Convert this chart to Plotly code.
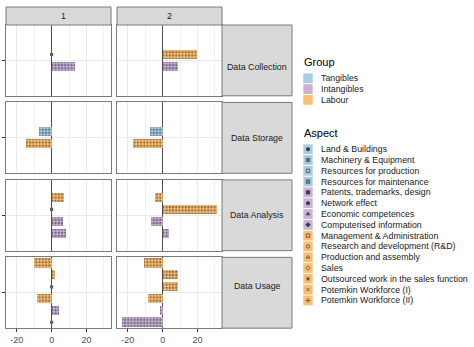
import plotly.graph_objects as go

W, H = 474, 347

# ---- data -------------------------------------------------------------
stages = ["Data Collection", "Data Storage", "Data Analysis", "Data Usage"]
columns = ["1", "2"]

# group of each dodged bar slot, listed top to bottom
slots_collection = ["Labour", "Intangibles"]
slots_storage = ["Tangibles", "Labour"]
slots_analysis = ["Labour", "Labour", "Intangibles", "Intangibles"]
slots_usage = ["Labour", "Labour", "Labour", "Labour", "Intangibles", "Intangibles"]

# values for facet column "1"
col1_collection = [0, 13.5]
col1_storage = [-7, -14.5]
col1_analysis = [7, 0, 6.5, 8.5]
col1_usage = [-10, 2, 0, -8.5, 4.5, 0]

# values for facet column "2"
col2_collection = [19.5, 9]
col2_storage = [-7, -17]
col2_analysis = [-4.5, 31.4, -6.5, 3.8]
col2_usage = [-10.7, 9, 9, -8.6, -1.5, -23.5]

groups = ["Tangibles", "Intangibles", "Labour"]
group_colors = ["#A6CEE3", "#CAB2D6", "#FDBF6F"]

aspects = [
    "Land & Buildings", "Machinery & Equipment", "Resources for production",
    "Resources for maintenance", "Patents, trademarks, design", "Network effect",
    "Economic competences", "Computerised information",
    "Management & Administration", "Research and development (R&D)",
    "Production and assembly", "Sales", "Outsourced work in the sales function",
    "Potemkin Workforce (I)", "Potemkin Workforce (II)",
]
aspect_groups = ["Tangibles"] * 4 + ["Intangibles"] * 4 + ["Labour"] * 7
aspect_symbols = [
    "circle", "square-cross-open", "square-open", "square-x-open",
    "square", "circle", "triangle-up", "diamond",
    "square-open", "circle-open", "triangle-up-open", "diamond-open",
    "asterisk-open", "x-thin-open", "cross-thin-open",
]

x_ticks = [-20, 0, 20]
x_minor = [-10, 10, 30]
x_range = [-26.25, 34.15]

stage_slots = [slots_collection, slots_storage, slots_analysis, slots_usage]
stage_values = [
    [col1_collection, col2_collection],
    [col1_storage, col2_storage],
    [col1_analysis, col2_analysis],
    [col1_usage, col2_usage],
]

# ---- geometry (pixels) ------------------------------------------------
PANEL_X = [(6, 111), (117, 222)]
ROW_TOP, ROW_H, ROW_PITCH = 25.0, 70.8, 77.45
STRIP_TOP = (7, 25)
STRIP_RIGHT = (222, 292)
BORDER = "#7a7a7a"
GRID = "#EBEBEB"
FONT = "Liberation Sans, Arial, sans-serif"


def px(x):
    return x / W


def py(y):
    return 1 - y / H


color_of = dict(zip(groups, group_colors))

fig = go.Figure()
layout = dict(
    width=W, height=H, margin=dict(l=0, r=0, t=0, b=0),
    paper_bgcolor="white", plot_bgcolor="white",
    font=dict(family=FONT, size=9, color="#1a1a1a"),
    showlegend=False, barmode="overlay", bargap=0,
)
shapes, annotations = [], []

for r, stage in enumerate(stages):
    top = ROW_TOP + r * ROW_PITCH
    bottom = top + ROW_H
    slots = stage_slots[r]
    n = len(slots)
    ypos = [(n - 1) / 2 - k for k in range(n)]
    for c in range(2):
        idx = r * 2 + c + 1
        xa, ya = f"x{idx}", f"y{idx}"
        vals = stage_values[r][c]
        for g in groups:
            ys = [ypos[k] for k in range(n) if slots[k] == g and vals[k] != 0]
            xs = [vals[k] for k in range(n) if slots[k] == g and vals[k] != 0]
            if not xs:
                continue
            fig.add_trace(go.Bar(
                x=xs, y=ys, orientation="h", width=0.78, xaxis=xa, yaxis=ya,
                name=g, hoverinfo="x+name",
                marker=dict(
                    color=color_of[g], line=dict(width=0),
                    pattern=dict(shape=".", fillmode="overlay", fgcolor="#22222c",
                                 size=3.2, solidity=0.45),
                ),
            ))
        # zero-valued entries only show their pattern glyph at the origin
        zy = [ypos[k] for k in range(n) if vals[k] == 0]
        if zy:
            fig.add_trace(go.Scatter(
                x=[0] * len(zy), y=zy, mode="markers", xaxis=xa, yaxis=ya,
                marker=dict(symbol="square", size=3.2, color="#5a5f6e"),
                hoverinfo="skip",
            ))
        x0, x1 = PANEL_X[c]
        bottom_row = r == len(stages) - 1
        layout[f"xaxis{idx}"] = dict(
            domain=[px(x0), px(x1)], anchor=ya, range=x_range,
            tickvals=x_ticks, ticktext=[str(v) for v in x_ticks],
            showticklabels=bottom_row, ticks="outside" if bottom_row else "",
            ticklen=3, tickcolor="#333333", tickwidth=1,
            tickfont=dict(size=9, color="#4d4d4d", family=FONT),
            showgrid=True, gridcolor=GRID, gridwidth=1,
            minor=dict(tickvals=x_minor, showgrid=True, gridcolor="#F0F0F0",
                       gridwidth=0.7, ticks=""),
            zeroline=True, zerolinecolor="#4d4d4d", zerolinewidth=1,
            showline=True, mirror=True, linecolor=BORDER, linewidth=1,
            fixedrange=True,
        )
        layout[f"yaxis{idx}"] = dict(
            domain=[py(bottom), py(top)], anchor=xa, range=[-3, 3],
            tickvals=[0], ticktext=[""], ticks="outside" if c == 0 else "",
            ticklen=3, tickcolor="#333333", tickwidth=1,
            showgrid=True, gridcolor=GRID, gridwidth=1, zeroline=False,
            showline=True, mirror=True, linecolor=BORDER, linewidth=1,
            fixedrange=True,
        )
    # right-hand strip with the stage name
    shapes.append(dict(type="rect", xref="paper", yref="paper",
                       x0=px(STRIP_RIGHT[0]), x1=px(STRIP_RIGHT[1]),
                       y0=py(bottom), y1=py(top), fillcolor="#D9D9D9",
                       line=dict(color=BORDER, width=1)))
    annotations.append(dict(xref="paper", yref="paper",
                            x=px(sum(STRIP_RIGHT) / 2), y=py((top + bottom) / 2),
                            text=stage, showarrow=False,
                            font=dict(size=8.8, color="#1a1a1a", family=FONT)))

# top strips with the column labels
for c, lab in enumerate(columns):
    x0, x1 = PANEL_X[c]
    shapes.append(dict(type="rect", xref="paper", yref="paper",
                       x0=px(x0), x1=px(x1), y0=py(STRIP_TOP[1]), y1=py(STRIP_TOP[0]),
                       fillcolor="#D9D9D9", line=dict(color=BORDER, width=1)))
    annotations.append(dict(xref="paper", yref="paper", x=px((x0 + x1) / 2),
                            y=py(sum(STRIP_TOP) / 2), yanchor="middle",
                            text=lab, showarrow=False,
                            font=dict(size=8.8, color="#1a1a1a", family=FONT)))

# ---- legends (symbols drawn on a small pixel-space axis) --------------
KEY_X0, KEY_X1, TEXT_X, TITLE_X = 303.3, 312.7, 319.0, 302.0
STEP = 10.8
LEG_X0, LEG_X1 = 298.0, 316.0
layout["xaxis9"] = dict(domain=[px(LEG_X0), px(LEG_X1)], range=[LEG_X0, LEG_X1],
                        visible=False, fixedrange=True, anchor="y9")
layout["yaxis9"] = dict(domain=[0, 1], range=[H, 0], visible=False,
                        fixedrange=True, anchor="x9")


def legend_title(text, y):
    annotations.append(dict(xref="paper", yref="paper", x=px(TITLE_X), y=py(y),
                            xanchor="left", yanchor="middle", text=text,
                            showarrow=False,
                            font=dict(size=11, color="#000000", family=FONT)))


def legend_item(text, color, y):
    shapes.append(dict(type="rect", xref="paper", yref="paper", layer="below",
                       x0=px(KEY_X0), x1=px(KEY_X1),
                       y0=py(y + 4.9), y1=py(y - 4.9), fillcolor=color,
                       line=dict(width=0)))
    annotations.append(dict(xref="paper", yref="paper", x=px(TEXT_X), y=py(y),
                            xanchor="left", yanchor="middle", text=text,
                            showarrow=False,
                            font=dict(size=8.8, color="#1a1a1a", family=FONT)))


legend_title("Group", 62)
for i, g in enumerate(groups):
    legend_item(g, group_colors[i], 78.3 + i * STEP)

legend_title("Aspect", 133)
sym_y = []
for i, a in enumerate(aspects):
    y = 149.2 + i * STEP
    sym_y.append(y)
    legend_item(a, color_of[aspect_groups[i]], y)

fig.add_trace(go.Scatter(
    x=[(KEY_X0 + KEY_X1) / 2] * len(aspects), y=sym_y, mode="markers",
    xaxis="x9", yaxis="y9", hoverinfo="skip",
    marker=dict(symbol=aspect_symbols, size=3.4, color="#3a3a48",
                line=dict(color="#3a3a48", width=0.7)),
))

layout["shapes"] = shapes
layout["annotations"] = annotations
fig.update_layout(**layout)
fig.write_html("out.html")
